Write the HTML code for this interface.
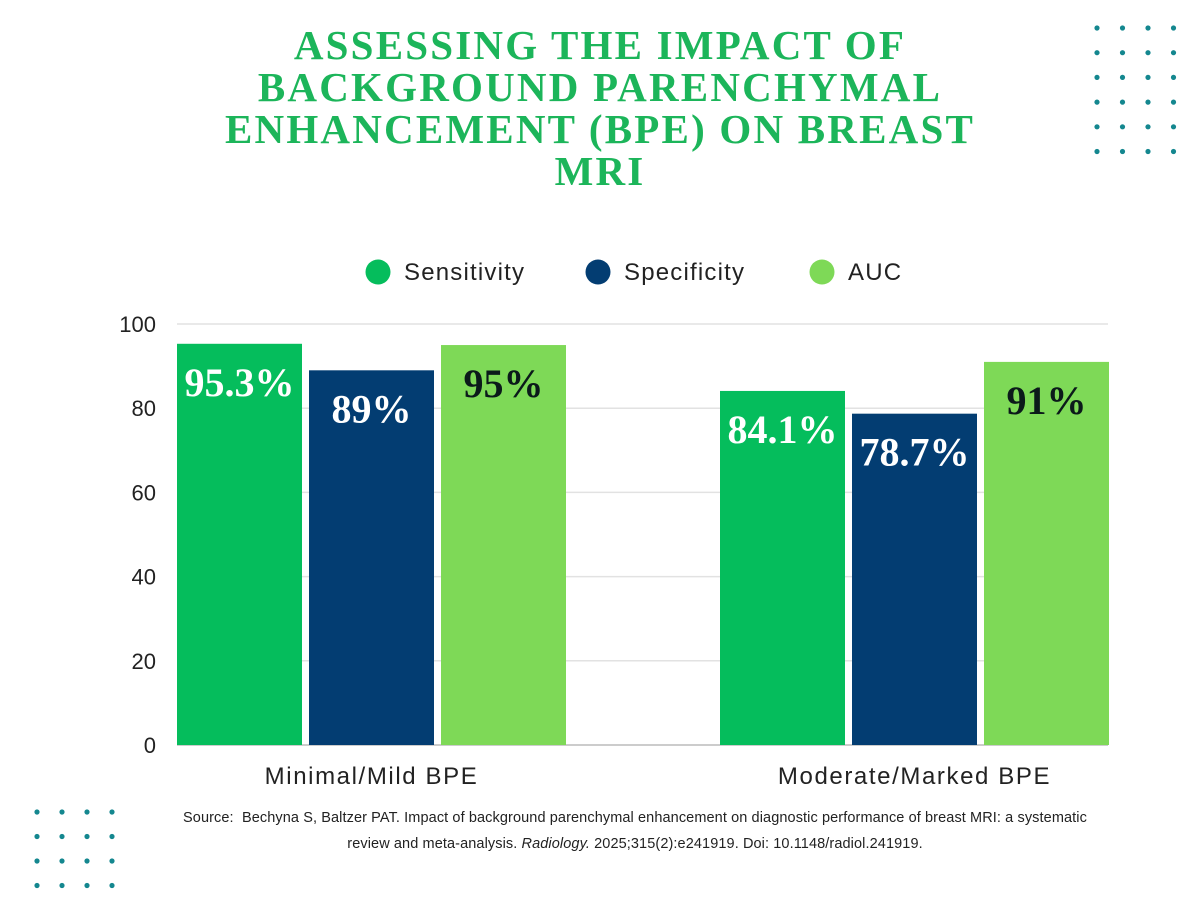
<!DOCTYPE html>
<html><head><meta charset="utf-8"><style>
body{margin:0;background:#fff;width:1200px;height:900px;overflow:hidden;position:relative;font-family:"Liberation Sans",sans-serif}
#title{position:absolute;left:100px;width:1000px;top:24px;text-align:center;font-family:"Liberation Serif",serif;font-weight:bold;font-size:41px;line-height:42px;color:#1cb55a;letter-spacing:2.2px}
#src{position:absolute;left:160px;width:950px;top:805px;text-align:center;font-size:14.5px;line-height:26px;color:#222;letter-spacing:0.1px}
</style></head><body>
<div id="title">ASSESSING THE IMPACT OF<br>BACKGROUND PARENCHYMAL<br>ENHANCEMENT (BPE) ON BREAST<br>MRI</div>
<svg id="chart" width="1200" height="900" style="position:absolute;left:0;top:0"></svg>
<div id="src">Source:&nbsp; Bechyna S, Baltzer PAT. Impact of background parenchymal enhancement on diagnostic performance of breast MRI: a systematic<br>review and meta-analysis. <i>Radiology.</i> 2025;315(2):e241919. Doi: 10.1148/radiol.241919.</div>
<script>
const categories=["Minimal/Mild BPE","Moderate/Marked BPE"];
const seriesNames=["Sensitivity","Specificity","AUC"];
const sensitivity=[95.3,84.1];
const specificity=[89,78.7];
const auc=[95,91];
const valueLabels=[["95.3%","84.1%"],["89%","78.7%"],["95%","91%"]];
const yTicks=[0,20,40,60,80,100];
const colors=["#05bd5c","#033d72","#7ed957"];
const labelColors=["#fff","#fff","#0b1a1a"];
const series=[sensitivity,specificity,auc];
const NS="http://www.w3.org/2000/svg";
const svg=document.getElementById('chart');
const y0=745,yTop=324,x0=177,x1=1108;
const yScale=v=>y0-(v/100)*(y0-yTop);
const bandX=i=>x0+i*543, barW=125, gap=7;
function mk(t,a){const e=document.createElementNS(NS,t);for(const k in a)e.setAttribute(k,a[k]);svg.appendChild(e);return e;}
yTicks.forEach(t=>{
  const l=mk('line',{x1:x0,x2:x1,y1:yScale(t),y2:yScale(t),stroke:t===0?'#bbb':'#e2e2e2','stroke-width':1.5});
  
  
  const tx=mk('text',{x:156,y:yScale(t)+8,'text-anchor':'end','font-size':22,fill:'#222'});
  tx.textContent=t;
  
  
});
categories.forEach((c,i)=>{
  series.forEach((s,j)=>{
    const x=bandX(i)+j*(barW+gap);
    const r=mk('rect',{x:x,y:yScale(s[i]),width:barW,height:y0-yScale(s[i]),fill:colors[j]});
    
    
    const t=mk('text',{x:x+barW/2,y:yScale(s[i])+52,'text-anchor':'middle','font-size':40,'font-weight':'bold','font-family':'Liberation Serif,serif',fill:labelColors[j]});
    t.textContent=valueLabels[j][i];
    
    
  });
  const cl=mk('text',{x:bandX(i)+(3*barW+2*gap)/2,y:784,'text-anchor':'middle','font-size':24,'letter-spacing':1.6,fill:'#222'});
  cl.textContent=c;
  
  
});
const legX=[378,598,822];
seriesNames.forEach((n,j)=>{
  const c=mk('circle',{cx:legX[j],cy:272,r:12.5,fill:colors[j]});
  
  
  const t=mk('text',{x:legX[j]+26,y:280,'font-size':24,'letter-spacing':1.2,fill:'#222'});
  t.textContent=n;
  
  
});
for(let r=0;r<6;r++)for(let c=0;c<4;c++){
  const d=mk('circle',{cx:1097+c*25.5,cy:28+r*24.7,r:2.6,fill:'#14878f'});
  
  
}
for(let r=0;r<4;r++)for(let c=0;c<4;c++){
  const d=mk('circle',{cx:37+c*25,cy:812+r*24.5,r:2.6,fill:'#14878f'});
  
  
}
</script>
</body></html>
